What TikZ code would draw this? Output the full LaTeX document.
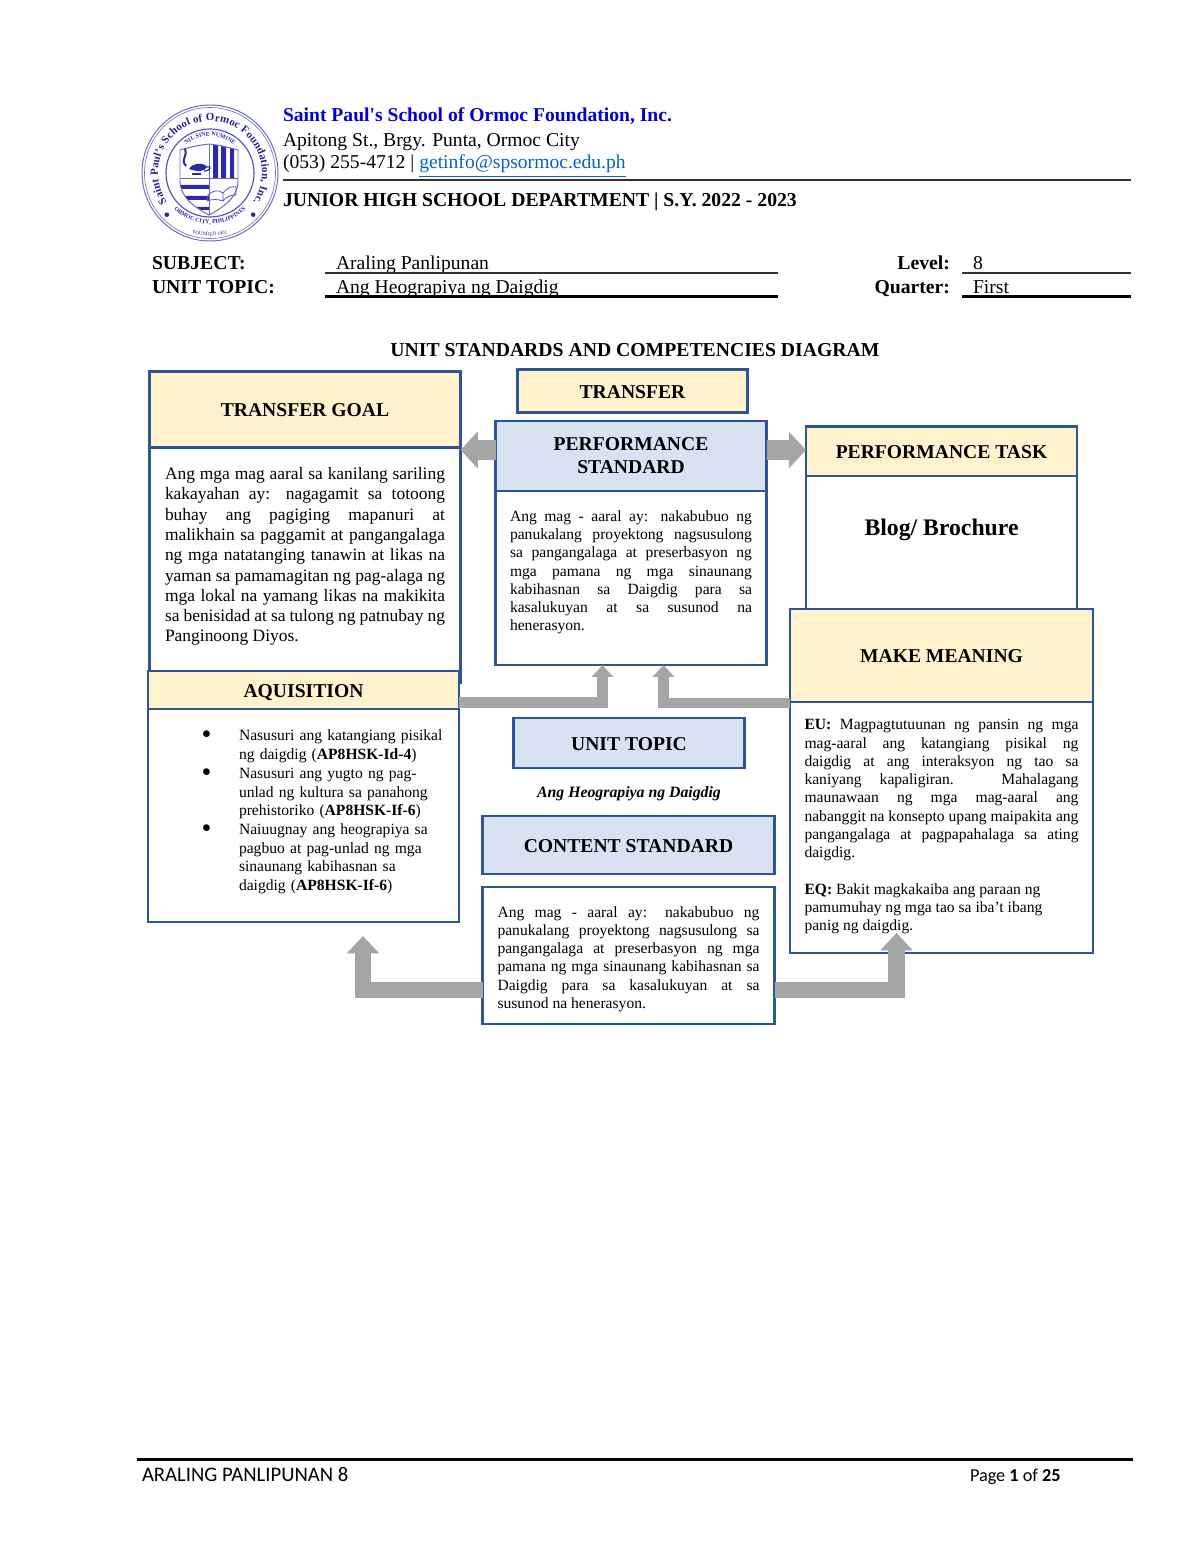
\documentclass[tikz,border=0pt]{standalone}
\usepackage{fontspec}
\setmainfont{Liberation Serif}
\newfontfamily\footfont{Carlito}
\usetikzlibrary{arrows.meta,positioning,calc,decorations.text}
\definecolor{unitedge}{RGB}{47,85,151}
\definecolor{unityellow}{RGB}{255,242,204}
\definecolor{unitblue}{RGB}{217,226,243}
\definecolor{unitarrow}{RGB}{165,165,165}
\definecolor{sealblue}{RGB}{40,40,170}
\definecolor{maillink}{RGB}{5,99,193}
\def\pxu{0.51pt}
\tikzset{
  cellsize/.style 2 args={minimum width=#1*\pxu, minimum height=#2*\pxu},
  unitcell/.style={rectangle, draw=unitedge, line width=1.05pt, inner sep=0pt, outer sep=0pt,
    align=center, font=\fontsize{10}{11.7}\selectfont\bfseries},
  oneline/.style={text height=7.6pt, text depth=0pt},
  linetext/.style={inner sep=0pt, outer sep=0pt, anchor=base west, font=\fontsize{10}{12}\selectfont},
  boldtext/.style={linetext, font=\fontsize{10.05}{12}\selectfont\bfseries},
  goaltext/.style={inner sep=0pt, outer sep=0pt, align=justify, text width=280*\pxu,
    font=\fontsize{8.9}{10.35}\selectfont},
  smalltext/.style={inner sep=0pt, outer sep=0pt, align=justify,
    font=\fontsize{7.95}{9.3}\selectfont},
  arrowthin/.style={draw=unitarrow, line width=5.6pt, -{Triangle[width=10.8pt,length=6.1pt]}},
  arrowthick/.style={draw=unitarrow, line width=8.2pt, -{Triangle[width=16pt,length=8.8pt]}},
  arrowside/.style={draw=unitarrow, line width=10.2pt, -{Triangle[width=18.4pt,length=8.8pt]}},
  headrule/.style={line width=.8pt, black!80},
  fieldrule/.style={line width=.7pt, black!80},
  fieldrulethick/.style={line width=1.2pt, black}
}
\newcommand{\unitbox}[3]{%
  \node[unitcell, fill=#2, #3] (#1) }
\newcommand{\itemdot}{\leavevmode\llap{\raisebox{-1.4pt}{\Large\textbullet}\hspace{14pt}}}
\begin{document}
\begin{tikzpicture}[x=0.51pt,y=-0.51pt]
\useasboundingbox (0,0) rectangle (1200,1553);

\begin{scope}[shift={(210,173)},x=0.51pt,y=0.51pt]
  \draw[sealblue!70, line width=.5pt] (0,0) circle (68);
  \draw[sealblue!70, line width=.3pt] (0,0) circle (65.5);
  \draw[sealblue!80, line width=.6pt] (0,0) circle (44);
  \path[decorate, decoration={text along path, text align=fit to path,
    text={|\fontsize{5.6}{6}\selectfont\bfseries\color{sealblue!85!black}|Saint Paul's School of Ormoc Foundation, Inc.}}]
    (214:52) arc (214:-34:52);
  \path[decorate, decoration={text along path, text align=center,
    text={|\fontsize{3}{3}\selectfont\bfseries\color{sealblue}|NIL SINE NUMINE}}]
    (133:37) arc (133:47:37);
  \path[decorate, decoration={text along path, text align=center,
    text={|\fontsize{3}{4}\selectfont\bfseries\color{sealblue}|ORMOC CITY, PHILIPPINES}}]
    (226:51) arc (226:314:51);
  \path[decorate, decoration={text along path, text align=center,
    text={|\fontsize{2.6}{3}\selectfont\color{sealblue}|FOUNDED 1961}}]
    (246:63) arc (246:294:63);
  \fill[sealblue] (224:60) circle (2.3) (316:60) circle (2.3);
  \begin{scope}
    \clip (-30,23) .. controls (-20,26) and (-10,28) .. (-1,29) .. controls (8,28) and (18,26) .. (28,23)
      -- (28,-8) .. controls (28,-25) and (12,-35) .. (-1,-42) .. controls (-14,-35) and (-30,-25) .. (-30,-8) -- cycle;
    \fill[white] (-35,35) rectangle (35,-45);
    \fill[sealblue] (3,30) rectangle (8,-5) (11,30) rectangle (16,-5) (20,30) rectangle (24,-5);
    \fill[sealblue] (-32,-12) rectangle (-1,-16) (-32,-23) rectangle (-1,-27) (-32,-34) rectangle (-1,-37);
  \end{scope}
  \draw[sealblue!70, line width=.5pt] (-30,23) .. controls (-20,26) and (-10,28) .. (-1,29) .. controls (8,28) and (18,26) .. (28,23)
    -- (28,-8) .. controls (28,-25) and (12,-35) .. (-1,-42) .. controls (-14,-35) and (-30,-25) .. (-30,-8) -- cycle;
  \draw[sealblue!70, line width=.5pt] (-1,29) -- (-1,-42) (-30,-5) -- (28,-5);
  \fill[sealblue] (-21,4) .. controls (-12,1) and (-6,1) .. (-3,6) .. controls (-6,11) and (-18,10) .. (-21,4) -- cycle;
  \fill[sealblue] (-18,0) rectangle (-9,-2);
  \draw[sealblue, line width=.6pt] (-3,6) .. controls (2,8) and (1,2) .. (-6,2);
  \draw[sealblue, line width=1pt] (-24,7) .. controls (-30,14) and (-22,16) .. (-25,24);
  \draw[sealblue!80, line width=.4pt] (-3,-28) -- (-2,-22) .. controls (2,-18) and (8,-16) .. (13,-20)
    .. controls (18,-14) and (23,-13) .. (26,-14) -- (26,-22) .. controls (20,-22) and (16,-24) .. (13,-28)
    .. controls (8,-26) and (2,-26) .. (-3,-28) -- cycle (13,-20) -- (13,-28);
\end{scope}

\node[boldtext, text=blue!85!black, font=\fontsize{10}{12}\selectfont\bfseries] (schoolname) at (283,122) {Saint Paul\textquotesingle s School of Ormoc Foundation, Inc.};
\node[linetext] (schooladdress) at (283,147) {Apitong St., Brgy. Punta, Ormoc City};
\node[linetext] (schoolphone) at (283,169) {(053) 255-4712 | \textcolor{maillink}{\underline{getinfo@spsormoc.edu.ph}}};
\node[boldtext] (department) at (283,207) {JUNIOR HIGH SCHOOL DEPARTMENT | S.Y. 2022 - 2023};
\draw[headrule] (283,180) -- (1131,180);

\node[boldtext] (subjectlabel) at (152,269) {SUBJECT:};
\node[linetext] (subjectvalue) at (336,269) {Araling Panlipunan};
\node[boldtext] (topiclabel) at (152,293) {UNIT TOPIC:};
\node[linetext] (topicvalue) at (336,293) {Ang Heograpiya ng Daigdig};
\node[boldtext, anchor=base east] (levellabel) at (950,269) {Level:};
\node[linetext] (levelvalue) at (973,269) {8};
\node[boldtext, anchor=base east] (quarterlabel) at (950,293) {Quarter:};
\node[linetext] (quartervalue) at (973,293) {First};
\draw[fieldrule] (325,273) -- (778,273) (962,273) -- (1131,273);
\draw[fieldrulethick] (325,296.5) -- (778,296.5) (962,296.5) -- (1131,296.5);

\node[boldtext, anchor=base] (diagramtitle) at (635,356) {UNIT STANDARDS AND COMPETENCIES DIAGRAM};

\unitbox{tgoalhead}{unityellow}{oneline, cellsize={311}{76}, anchor=north west, at={(149.5,371.5)}}{TRANSFER GOAL};
\unitbox{tgoalbody}{white}{cellsize={311}{235.5}, below=0pt of tgoalhead}{};
\node[goaltext, below=10.2pt of tgoalhead] (tgoaltext) {Ang mga mag aaral sa kanilang sariling\linebreak
  kakayahan ay: nagagamit sa totoong\linebreak
  buhay ang pagiging mapanuri at\linebreak
  malikhain sa paggamit at pangangalaga\linebreak
  ng mga natatanging tanawin at likas na\linebreak
  yaman sa pamamagitan ng pag-alaga ng\linebreak
  mga lokal na yamang likas na makikita\linebreak
  sa benisidad at sa tulong ng patnubay ng\linebreak
  Panginoong Diyos.};

\unitbox{aquihead}{unityellow}{oneline, cellsize={311}{38}, anchor=north west, at={(148,671)}}{AQUISITION};
\unitbox{aquibody}{white}{cellsize={311}{213}, below=0pt of aquihead}{};
\node[smalltext, align=left, anchor=north west, text width=215*\pxu, at={(239,730)},
  font=\fontsize{7.95}{9.55}\selectfont] (aquitext) {%
  \itemdot Nasusuri ang katangiang pisikal\\
  ng daigdig (\textbf{AP8HSK-Id-4})\\
  \itemdot Nasusuri ang yugto ng pag-\\
  unlad ng kultura sa panahong\\
  prehistoriko (\textbf{AP8HSK-If-6})\\
  \itemdot Naiuugnay ang heograpiya sa\\
  pagbuo at pag-unlad ng mga\\
  sinaunang kabihasnan sa\\
  daigdig (\textbf{AP8HSK-If-6})};

\unitbox{transferhead}{unityellow}{oneline, cellsize={230}{43}, anchor=north west, at={(517.5,369.5)}}{TRANSFER};
\unitbox{perfhead}{unitblue}{cellsize={271}{70}, anchor=north west, at={(495.5,421)}}{PERFORMANCE\\STANDARD};
\unitbox{perfbody}{white}{cellsize={271}{174}, below=0pt of perfhead}{};
\node[smalltext, text width=242*\pxu, below=10pt of perfhead] (perftext) {Ang mag - aaral ay: nakabubuo ng\linebreak
  panukalang proyektong nagsusulong\linebreak
  sa pangangalaga at preserbasyon ng\linebreak
  mga pamana ng mga sinaunang\linebreak
  kabihasnan sa Daigdig para sa\linebreak
  kasalukuyan at sa susunod na\linebreak
  henerasyon.};

\unitbox{ptaskhead}{unityellow}{oneline, cellsize={271}{49.5}, anchor=north west, at={(806,426.5)}}{PERFORMANCE TASK};
\unitbox{ptaskbody}{white}{cellsize={271}{140}, below=0pt of ptaskhead}{};
\node[inner sep=0pt, font=\fontsize{12.1}{14}\selectfont\bfseries, anchor=base] (ptasktext) at (941.5,535) {Blog/ Brochure};

\unitbox{meanhead}{unityellow}{oneline, cellsize={303}{93}, anchor=north west, at={(790,609)}}{MAKE MEANING};
\unitbox{meanbody}{white}{cellsize={303}{251}, below=0pt of meanhead}{};
\node[smalltext, text width=274*\pxu, below=9pt of meanhead] (meantext) {\textbf{EU:} Magpagtutuunan ng pansin ng mga\linebreak
  mag-aaral ang katangiang pisikal ng\linebreak
  daigdig at ang interaksyon ng tao sa\linebreak
  kaniyang kapaligiran. Mahalagang\linebreak
  maunawaan ng mga mag-aaral ang\linebreak
  nabanggit na konsepto upang maipakita ang\linebreak
  pangangalaga at pagpapahalaga sa ating\linebreak
  daigdig.\\[\baselineskip]
  \textbf{EQ:} Bakit magkakaiba ang paraan ng\\
  pamumuhay ng mga tao sa iba't ibang\\
  panig ng daigdig.};

\unitbox{topichead}{unitblue}{oneline, cellsize={231}{50}, anchor=north west, at={(513.5,718)}}{UNIT TOPIC};
\node[inner sep=0pt, font=\fontsize{8.05}{10}\selectfont\bfseries\itshape, below=9.5pt of topichead] (topictext) {Ang Heograpiya ng Daigdig};
\unitbox{contenthead}{unitblue}{oneline, cellsize={292}{58}, anchor=north west, at={(482.5,816)}}{CONTENT STANDARD};
\unitbox{contentbody}{white}{cellsize={292}{137}, anchor=north, at={($(contenthead.south)+(0,13)$)}}{};
\node[smalltext, text width=262*\pxu, below=9.5pt of contenthead.south, yshift=-7pt] (contenttext) {Ang mag - aaral ay: nakabubuo ng\linebreak
  panukalang proyektong nagsusulong sa\linebreak
  pangangalaga at preserbasyon ng mga\linebreak
  pamana ng mga sinaunang kabihasnan sa\linebreak
  Daigdig para sa kasalukuyan at sa\linebreak
  susunod na henerasyon.};

\coordinate (sidearrow) at ($(perfhead.west)+(0,-6)$);
\draw[arrowside] (sidearrow) -- (sidearrow -| tgoalhead.east);
\coordinate (sidearrowr) at ($(perfhead.east)+(0,-6)$);
\draw[arrowside] (sidearrowr) -- (sidearrowr -| ptaskhead.west);
\draw[arrowthin] ($(aquihead.east)+(0,12.5)$) -| ($(perfbody.south)+(-28.5,0)$);
\draw[arrowthin] ($(meanhead.west)+(0,47.5)$) -| ($(perfbody.south)+(32.5,0)$);
\draw[arrowthick] ($(contentbody.west)+(0,34.5)$) -| ($(aquibody.south)+(59.5,14)$);
\draw[arrowthick] ($(contentbody.east)+(0,34.5)$) -| ($(meanbody.south)+(-45,-20)$);

\draw[line width=1.6pt] (137,1459.5) -- (1133,1459.5);
\node[linetext, font=\footfont\fontsize{10.55}{12}\selectfont] (footerleft) at (142,1481) {ARALING PANLIPUNAN 8};
\node[linetext, font=\footfont\fontsize{9.3}{12}\selectfont] (footerright) at (970,1481) {Page \textbf{1} of \textbf{25}};
\end{tikzpicture}
\end{document}
